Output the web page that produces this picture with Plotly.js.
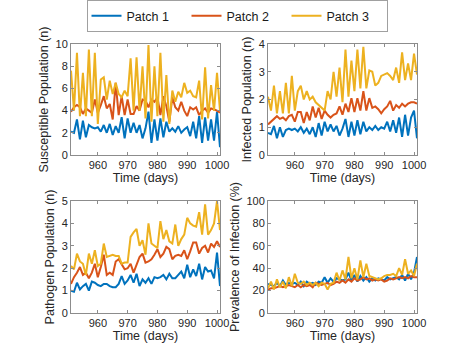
<!DOCTYPE html>
<html>
<head>
<meta charset="utf-8">
<script src="https://cdn.plot.ly/plotly-3.0.1.min.js"></script>
<style>html,body{margin:0;padding:0;background:#fff;}#chart{width:474px;height:354px;}</style>
</head>
<body>
<div id="chart"></div>
<script>
const days = [];
for (let d = 951; d <= 1001; d++) days.push(d);

const seriesNames = ['Patch 1', 'Patch 2', 'Patch 3'];

const susceptible1 = [2.1,2.0,3.2,1.4,3.1,1.6,2.7,2.5,2.4,2.5,2.1,2.7,2.0,2.8,1.8,2.6,2.0,3.4,1.5,3.3,2.0,2.9,2.0,2.7,1.5,2.4,3.9,1.1,3.2,1.3,3.3,1.6,3.0,2.1,2.4,2.1,2.6,2.0,2.3,2.5,1.7,3.0,1.5,3.5,1.1,3.4,1.3,3.2,1.3,3.9,0.7];
const susceptible2 = [3.9,4.3,4.5,4.3,3.7,4.2,4.0,3.8,5.0,3.8,4.5,5.3,4.2,4.6,3.2,6.5,3.6,5.3,3.6,5.0,3.7,3.7,4.4,4.0,5.0,4.9,4.3,5.0,4.8,5.2,3.6,5.3,4.4,3.0,5.2,4.3,4.0,4.8,4.0,3.5,4.3,4.1,4.3,3.6,4.0,4.2,3.8,4.2,4.1,4.0,3.8];
const susceptible3 = [7.6,4.0,9.2,3.5,7.4,3.5,9.5,3.5,9.2,2.8,6.8,7.0,5.0,6.7,5.5,6.5,5.5,5.2,5.8,5.3,8.7,4.0,8.8,4.0,8.0,3.3,9.9,3.0,8.0,3.5,9.2,3.0,7.2,2.8,5.8,4.8,5.7,5.2,6.5,5.6,5.8,5.3,5.2,6.7,3.2,7.9,3.3,6.3,4.0,7.4,4.0];

const infected1 = [0.8,0.75,1.05,0.6,1.0,0.65,0.9,0.95,0.9,0.95,0.85,1.0,0.8,0.95,0.75,1.0,0.65,1.15,0.7,1.2,0.85,1.1,0.85,1.05,0.7,0.95,1.3,0.65,1.2,0.7,1.25,0.75,1.2,0.85,1.0,0.9,1.05,0.9,1.0,0.95,1.2,0.85,1.25,0.8,1.35,0.65,1.45,0.7,1.35,1.6,0.6];
const infected2 = [1.1,1.2,1.3,1.4,1.3,1.35,1.25,1.4,1.45,1.2,1.55,1.55,1.15,1.55,1.25,1.75,1.35,1.7,1.3,1.6,1.45,1.35,1.45,1.5,1.75,1.45,1.85,1.55,2.05,1.55,2.05,1.6,2.3,1.6,2.05,1.7,1.75,1.65,1.5,1.65,1.75,1.95,1.6,1.8,1.7,1.85,1.75,1.85,1.9,1.9,1.85];
const infected3 = [2.1,1.6,2.5,1.5,2.3,1.5,2.6,1.5,2.85,1.6,2.3,2.5,2.0,2.3,2.0,2.1,1.9,1.8,1.7,1.6,2.3,2.0,3.0,2.1,3.15,1.9,3.8,2.1,3.4,2.3,3.8,2.4,3.9,2.4,3.05,3.0,2.5,2.6,2.85,2.9,2.95,2.85,2.7,3.15,2.6,3.7,2.7,3.3,2.7,3.65,2.9];

const pathogen1 = [1.0,0.95,1.35,1.05,1.2,1.3,1.0,1.4,1.35,1.25,1.2,1.3,1.3,1.2,1.15,1.15,1.3,1.65,1.3,1.45,1.7,1.35,1.75,1.2,1.5,1.35,1.55,1.3,1.6,1.55,1.6,1.7,1.5,1.75,1.55,1.55,1.7,1.85,1.55,2.15,1.6,1.95,1.65,2.2,1.5,2.05,1.85,1.9,1.55,2.7,1.2];
const pathogen2 = [1.3,1.6,1.8,2.05,1.7,1.8,1.55,1.8,2.2,1.6,2.05,2.6,1.7,1.8,1.7,2.3,2.4,2.15,1.95,2.0,2.2,1.8,2.2,2.5,2.65,2.25,2.3,2.4,2.6,2.85,2.5,2.65,2.95,2.85,2.4,2.55,2.6,2.55,2.8,2.4,2.75,3.15,3.15,2.65,2.9,3.0,2.7,3.1,2.95,3.2,2.95];
const pathogen3 = [2.1,1.95,2.65,2.3,2.2,1.7,2.65,2.2,2.8,2.1,2.2,3.1,2.5,2.55,2.6,2.55,2.55,2.2,2.25,2.25,3.4,3.6,3.75,3.0,3.25,2.6,4.0,3.1,3.0,2.9,4.1,3.3,3.7,3.2,3.1,3.95,3.0,3.3,3.5,4.25,4.0,3.9,3.85,4.5,3.5,4.85,3.5,3.7,4.0,5.0,3.7];

const prevalence1 = [26,25,24,27,24,29,25,27,26,27,25,28,24,28,26,27,25,28,27,32,27,31,28,31,30,29,30,36,29,34,28,33,29,32,28,31,29,31,30,29,32,30,31,32,30,34,29,35,30,36,50];
const prevalence2 = [21,22,22,23,24,23,24,25,24,23,25,23,25,24,25,23,27,26,25,26,27,25,26,28,27,29,27,30,28,31,29,30,32,30,31,29,30,29,30,28,29,31,30,31,32,31,32,31,33,32,32];
const prevalence3 = [22,28,21,30,23,28,22,32,24,35,27,26,28,25,27,25,27,24,27,26,21,26,27,36,29,38,30,50,31,40,30,47,32,44,33,32,31,30,31,33,34,34,35,33,40,34,48,35,38,33,44];

const xTickVals = [960,970,980,990,1000];

const colors = ['#0072BD','#D95319','#EDB120'];
const panels = [
  {data:[susceptible1,susceptible2,susceptible3], title:'Susceptible Population (n)', range:[0,10], dtick:2, xa:'x', ya:'y'},
  {data:[infected1,infected2,infected3], title:'Infected Population (n)', range:[0,4], dtick:1, xa:'x2', ya:'y2'},
  {data:[pathogen1,pathogen2,pathogen3], title:'Pathogen Population (n)', range:[0,5], dtick:1, xa:'x3', ya:'y3'},
  {data:[prevalence1,prevalence2,prevalence3], title:'Prevalence of Infection (%)', range:[0,100], dtick:20, xa:'x4', ya:'y4'}
];

const traces = [];
panels.forEach((p, pi) => {
  p.data.forEach((vals, si) => {
    traces.push({
      x: days, y: vals, type:'scatter', mode:'lines',
      name: seriesNames[si], legendgroup: seriesNames[si], showlegend: pi === 0,
      line:{color: colors[si], width:2},
      xaxis: p.xa, yaxis: p.ya
    });
  });
});

const W = 474, H = 354;
const xd = [[71/W, 220/W],[268/W, 417/W]];
const yd = [[1-155/H, 1-44/H],[1-313/H, 1-201/H]];
const font = {family:'Liberation Sans, Arial, sans-serif', color:'#262626'};

function xAxis(col, anchor){
  return {domain: xd[col], anchor: anchor, range:[951,1001], tickvals:xTickVals,
    showline:true, mirror:'allticks', linecolor:'#8c8c8c', linewidth:1,
    ticks:'inside', ticklen:3, tickcolor:'#8c8c8c', showgrid:false, zeroline:false,
    tickfont:{size:11, color:'#262626'}, title:{text:'Time (days)', font:{size:12.5, color:'#262626'}, standoff:2}};
}
function yAxis(row, anchor, p){
  return {domain: yd[row], anchor: anchor, range:p.range, dtick:p.dtick,
    showline:true, mirror:'allticks', linecolor:'#8c8c8c', linewidth:1,
    ticks:'inside', ticklen:3, tickcolor:'#8c8c8c', showgrid:false, zeroline:false,
    tickfont:{size:11, color:'#262626'}, title:{text:p.title, font:{size:12.5, color:'#262626'}, standoff:4}};
}

const layout = {
  width: W, height: H,
  margin:{l:0,r:0,t:0,b:0},
  paper_bgcolor:'#fff', plot_bgcolor:'#fff',
  font: font,
  showlegend:true,
  legend:{orientation:'h', x:0.5, xanchor:'center', y:1.0, yanchor:'top',
    bordercolor:'#a0a0a0', borderwidth:1, bgcolor:'#fff',
    font:{size:12.5, color:'#1a1a1a'}, entrywidth:55, itemwidth:30},
  xaxis: xAxis(0,'y'), yaxis: yAxis(0,'x',panels[0]),
  xaxis2: xAxis(1,'y2'), yaxis2: yAxis(0,'x2',panels[1]),
  xaxis3: xAxis(0,'y3'), yaxis3: yAxis(1,'x3',panels[2]),
  xaxis4: xAxis(1,'y4'), yaxis4: yAxis(1,'x4',panels[3])
};

Plotly.newPlot('chart', traces, layout, {displayModeBar:false, staticPlot:true});
</script>
</body>
</html>
